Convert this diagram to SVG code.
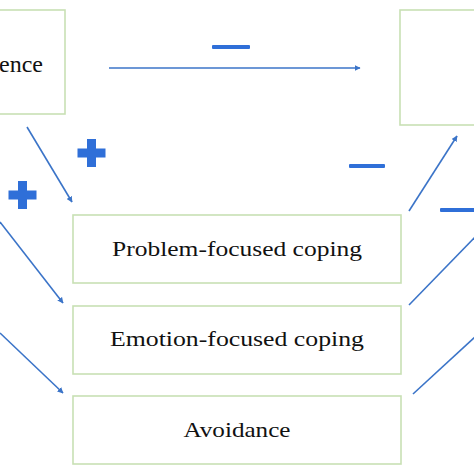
<svg xmlns="http://www.w3.org/2000/svg" width="474" height="474" viewBox="0 0 474 474">
<style>
.box{fill:#fff;stroke:#c8e0b4;stroke-width:1.6}
.lbl{font-family:'Liberation Serif','DejaVu Serif',serif;font-size:22px;fill:#111;text-anchor:middle}
.ln{stroke:#3b74c8;stroke-width:1.6;fill:none}
.sign{fill:#2f6fd8}
</style>
<defs>
<marker id="ah" viewBox="0 0 10 10" refX="9" refY="5" markerWidth="6" markerHeight="6" markerUnits="userSpaceOnUse" orient="auto">
<path d="M0,0 L10,5 L0,10 z" fill="#3b74c8"/>
</marker>
</defs>
<rect width="474" height="474" fill="#fff"/>
<g id="node-left">
<rect class="box" x="-20" y="10" width="85" height="104"/>
<text class="lbl" x="43" y="72" font-family="Liberation Serif, DejaVu Serif, serif" style="text-anchor:end;font-size:24px">ence</text>
</g>
<g id="node-right">
<rect class="box" x="400" y="10" width="90" height="115"/>
</g>
<g id="node-problem">
<rect class="box" x="73" y="215" width="328" height="68"/>
<text class="lbl" x="237" y="256" textLength="250" lengthAdjust="spacingAndGlyphs">Problem-focused coping</text>
</g>
<g id="node-emotion">
<rect class="box" x="73" y="306" width="328" height="68"/>
<text class="lbl" x="237" y="346" textLength="254" lengthAdjust="spacingAndGlyphs">Emotion-focused coping</text>
</g>
<g id="node-avoidance">
<rect class="box" x="73" y="396" width="328" height="68"/>
<text class="lbl" x="237" y="437" textLength="107" lengthAdjust="spacingAndGlyphs">Avoidance</text>
</g>
<g id="connectors">
<line class="ln" x1="109" y1="68" x2="360" y2="68" marker-end="url(#ah)"/>
<line class="ln" x1="27" y1="127" x2="72" y2="202" marker-end="url(#ah)"/>
<line class="ln" x1="0" y1="222" x2="63" y2="303" marker-end="url(#ah)"/>
<line class="ln" x1="0" y1="333" x2="63" y2="393" marker-end="url(#ah)"/>
<line class="ln" x1="409" y1="211" x2="457" y2="136" marker-end="url(#ah)"/>
<line class="ln" x1="409" y1="305" x2="476" y2="236"/>
<line class="ln" x1="413" y1="394" x2="476" y2="336"/>
</g>
<g id="signs">
<rect class="sign" x="212" y="45" width="38" height="4" rx="1"/>
<rect class="sign" x="349" y="164" width="36" height="4" rx="1"/>
<rect class="sign" x="440" y="208" width="40" height="4" rx="1"/>
<path class="sign" d="M87,139 h9 v9.5 h9.5 v9 h-9.5 v9.5 h-9 v-9.5 h-9.5 v-9 h9.5 z"/>
<path class="sign" d="M18,181 h9 v9.5 h9.5 v9 h-9.5 v9.5 h-9 v-9.5 h-9.5 v-9 h9.5 z"/>
</g>
</svg>
